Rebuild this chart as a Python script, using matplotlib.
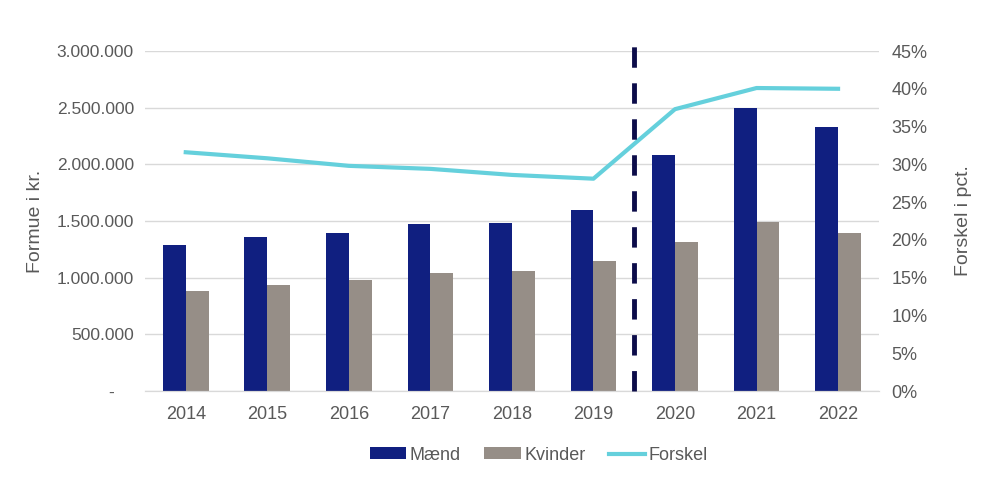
import numpy as np
import matplotlib.pyplot as plt
from matplotlib.ticker import FuncFormatter, MultipleLocator

plt.rcParams['font.family'] = ['Liberation Sans', 'DejaVu Sans']

years = ["2014", "2015", "2016", "2017", "2018", "2019", "2020", "2021", "2022"]
maend = [1290000, 1360000, 1395000, 1475000, 1485000, 1597000, 2083000, 2498000, 2330000]
kvinder = [883000, 936000, 980000, 1041000, 1059000, 1147000, 1315000, 1492000, 1394000]
forskel = [31.6, 30.8, 29.8, 29.4, 28.6, 28.1, 37.3, 40.1, 40.0]

c_m = "#101f80"
c_k = "#968e87"
c_f = "#65d0dc"
grey = "#595959"

fig = plt.figure(figsize=(9.89, 4.78), dpi=100)
ax = fig.add_axes([0.1466, 0.182, 0.742, 0.7113])
ax2 = ax.twinx()

x = np.arange(len(years))
w = 0.28
ax.bar(x - w / 2, maend, w, color=c_m, label="Mænd", zorder=2)
ax.bar(x + w / 2, kvinder, w, color=c_k, label="Kvinder", zorder=2)
ax2.plot(x, forskel, color=c_f, lw=3, label="Forskel", zorder=3)

ax.set_xlim(-0.5, len(years) - 0.5)
ax.set_ylim(0, 3000000)
ax2.set_ylim(0, 45)
ax.yaxis.set_major_locator(MultipleLocator(500000))
ax2.yaxis.set_major_locator(MultipleLocator(5))

def kr(v, pos):
    if v == 0:
        return "-    "
    return f"{int(v):,}".replace(",", ".")

ax.yaxis.set_major_formatter(FuncFormatter(kr))
ax2.yaxis.set_major_formatter(FuncFormatter(lambda v, p: f"{int(round(v))}%"))
ax.set_xticks(x)
ax.set_xticklabels(years)

ax.grid(axis="y", color="#d9d9d9", lw=1, zorder=0)
ax.set_axisbelow(True)
for a in (ax, ax2):
    for s in ["top", "left", "right"]:
        a.spines[s].set_visible(False)
    a.spines["bottom"].set_color("#d9d9d9")
    a.tick_params(length=0, labelsize=12.5, colors=grey, pad=8)
ax.tick_params(axis="x", labelsize=13, pad=11)
ax2.tick_params(axis="y", labelsize=13, pad=9)

ax.set_ylabel("Formue i kr.", fontsize=14, color=grey, labelpad=9)
ax2.set_ylabel("Forskel i pct.", fontsize=14, color=grey, labelpad=20)

ax2.axvline(5.5, ymin=0, ymax=1.055, color="#0c0c4a", lw=3.5,
            dashes=(4.2, 3.2), clip_on=False, zorder=4)

h1, l1 = ax.get_legend_handles_labels()
h2, l2 = ax2.get_legend_handles_labels()
fig.legend(h1 + h2, l1 + l2, loc="center", bbox_to_anchor=(0.545, 0.048), ncol=3,
           frameon=False, fontsize=13, labelcolor=grey, handlelength=2.0,
           handleheight=0.6, columnspacing=1.3, handletextpad=0.2)

plt.savefig("out.png", dpi=100)
plt.close()
